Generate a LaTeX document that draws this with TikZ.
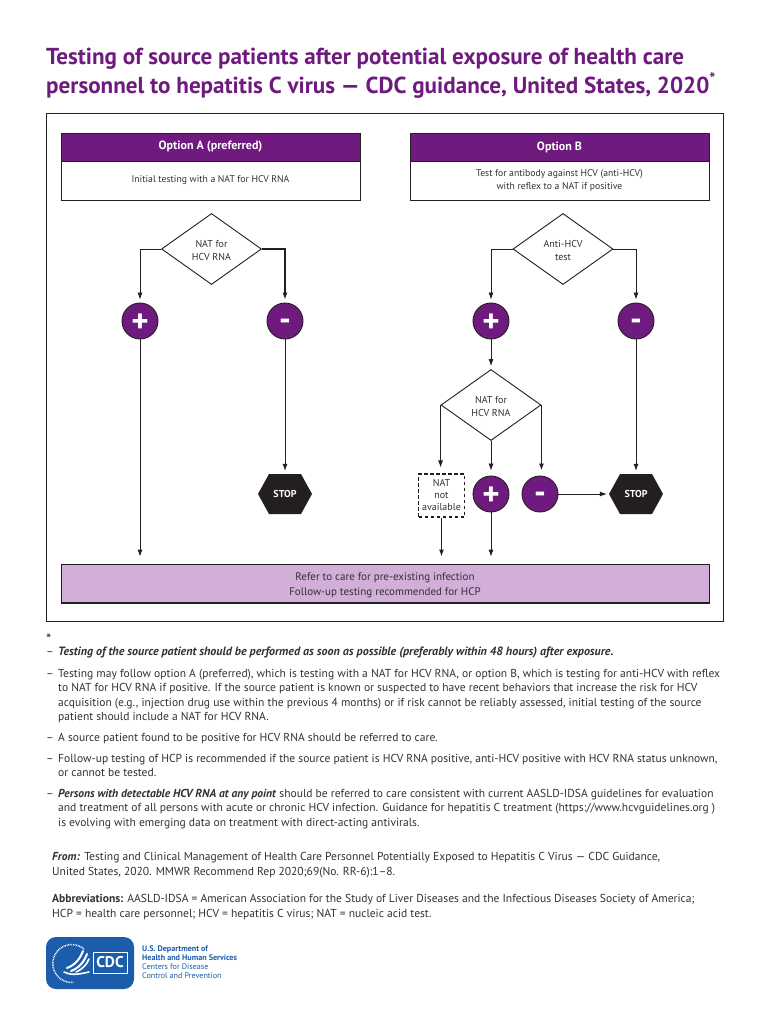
\documentclass[tikz,border=0pt]{standalone}
\usepackage{fontspec}
\setmainfont{PT Sans}
\usetikzlibrary{shapes.geometric,arrows.meta}
\definecolor{cdcpurple}{HTML}{6F1A7E}
\definecolor{lilac}{HTML}{D1AFD9}
\definecolor{inkk}{HTML}{231F20}
\definecolor{txt}{HTML}{333133}
\definecolor{cdcblue}{HTML}{1C5DAB}
\newcommand{\signmark}[2]{\smash{\makebox[0pt]{\raisebox{#1}{#2}}}}
\tikzset{
 arr/.style={draw=inkk,line width=.8pt,-{Latex[length=7pt,width=5pt]}},
 tharr/.style={draw=inkk,line width=1.7pt,-{Latex[length=7pt,width=5pt]}},
 header/.style={draw=inkk,fill=cdcpurple,text=white,font=\fontsize{12}{13}\selectfont\bfseries,minimum width=299pt,minimum height=28pt,inner sep=0pt},
 bodybox/.style={draw=inkk,line width=.7pt,text=txt,font=\fontsize{9.7}{13.5}\selectfont,minimum width=299pt,minimum height=39pt,inner sep=0pt,align=center},
 dec/.style={diamond,draw=inkk,line width=.9pt,text=txt,aspect=1.4,minimum width=100pt,minimum height=71pt,inner sep=0pt,align=center,font=\fontsize{10}{13}\selectfont},
 res/.style={circle,draw=inkk,line width=.9pt,fill=cdcpurple,text=white,minimum size=36pt,inner sep=0pt,font=\fontsize{33}{33}\selectfont\bfseries},
 stopnode/.style={rectangle,minimum width=54pt,minimum height=40pt,inner sep=0pt,text=white,font=\fontsize{10}{11}\selectfont\bfseries,
  path picture={\fill[inkk] (path picture bounding box.west) -- ([xshift=11pt]path picture bounding box.north west) -- ([xshift=-11pt]path picture bounding box.north east) -- (path picture bounding box.east) -- ([xshift=-11pt]path picture bounding box.south east) -- ([xshift=11pt]path picture bounding box.south west) -- cycle;}},
 ttl/.style={anchor=base west,inner sep=0pt,text=cdcpurple,font=\fontsize{23.1}{26}\selectfont\bfseries},
 bt/.style={anchor=base west,inner sep=0pt,text=txt,font=\fontsize{11.55}{14}\selectfont},
 lg/.style={anchor=base west,inner sep=0pt,text=cdcblue,font=\fontsize{8.1}{9}\selectfont},
 swoosh/.style={draw=white,line width=2pt,line cap=round},
}
\begin{document}
\begin{tikzpicture}[x=1pt,y=-1pt]
\useasboundingbox (0,0) rectangle (768,1024);
\fill[white] (0,0) rectangle (768,1024);
\node[ttl] (t1) at (46,65) {Testing of source patients after potential exposure of health care};
\node[ttl] (t2) at (46,94) {personnel to hepatitis C virus — CDC guidance, United States, 2020\textsuperscript{*}};
\node[draw=inkk,line width=.8pt,minimum width=677pt,minimum height=508pt,inner sep=0pt] (frame) at (384.5,367) {};
% headers
\node[bodybox] (bA) at (210.5,180.5) {Initial testing with a NAT for HCV RNA};
\node[bodybox] (bB) at (559.5,180.5) {Test for antibody against HCV (anti-HCV)\\with reflex to a NAT if positive};
\node[header] (hA) at (210.5,147) {Option A (preferred)};
\node[header] (hB) at (559.5,147) {Option B};
% decisions
\node[dec] (dA) at (211.5,249) {\rule{0pt}{10pt}NAT for\\HCV RNA};
\node[dec] (dB) at (563,249) {\rule{0pt}{10pt}Anti-HCV\\test};
\node[dec] (dC) at (491,405) {\rule{0pt}{10pt}NAT for\\HCV RNA};
% results
\node[res] (pA) at (140,321) {\signmark{-11pt}{+}};
\node[res] (mA) at (285,321) {\signmark{-9pt}{-}};
\node[res] (pB) at (491,321) {\signmark{-11pt}{+}};
\node[res] (mB) at (636,321) {\signmark{-9pt}{-}};
\node[res] (pC) at (491,494) {\signmark{-11pt}{+}};
\node[res] (mC) at (540,494) {\signmark{-9pt}{-}};
\node[stopnode] (sA) at (285,494) {STOP};
\node[stopnode] (sB) at (636,494) {STOP};
\node[draw=inkk,line width=1.1pt,dash pattern=on 3.5pt off 2.5pt,minimum width=46pt,minimum height=43pt,inner sep=0pt,align=center,text=txt,font=\fontsize{10}{12}\selectfont] (na) at (441.5,495.5) {NAT\\not\\available};
\node[draw=inkk,line width=.8pt,fill=lilac,minimum width=648pt,minimum height=39pt,inner sep=0pt,align=center,text=txt,font=\fontsize{11}{14.5}\selectfont] (ref) at (385,583.5) {\rule{0pt}{11.5pt}Refer to care for pre-existing infection\\Follow-up testing recommended for HCP};
\draw[inkk,line width=2pt] (ref.south west) -- (ref.south east);
% connectors
\draw[arr,shorten >=3pt] (dA.west) -| (pA.north);
\draw[tharr,line width=1.2pt,shorten >=3pt] (dA.east) -| (mA.north);
\draw[arr,shorten >=3pt] (dB.west) -| (pB.north);
\draw[arr,shorten >=3pt] (dB.east) -| (mB.north);
\draw[arr,shorten >=3pt] (pB.south) -- (dC.north);
\draw[arr,shorten >=6pt] (dC.west) -- (dC.west |- na.north);
\draw[arr,shorten >=5pt] (dC.south) -- (pC.north);
\draw[tharr,shorten >=5pt] (dC.east) -- (dC.east |- mC.north);
\draw[arr,shorten >=3pt] (mA.south) -- (sA.north);
\draw[arr,shorten >=3pt] (mB.south) -- (sB.north);
\draw[arr,shorten >=2pt] (mC.east) -- (sB.west);
\draw[arr,shorten >=7pt] (pA.south) -- (pA.south |- ref.north);
\draw[tharr,shorten >=7pt] (na.south) -- (na.south |- ref.north);
\draw[arr,shorten >=7pt] (pC.south) -- (pC.south |- ref.north);
% notes
\node[bt,font=\fontsize{15}{15}\selectfont] (n0) at (46,644) {*};
\node[bt] (d1) at (46,655) {–};
\node[bt,font=\fontsize{12}{14}\selectfont\bfseries\itshape] (n1) at (58,655) {Testing of the source patient should be performed as soon as possible (preferably within 48 hours) after exposure.};
\node[bt] (d2) at (46,677) {–};
\node[bt] (n2a) at (58,677) {Testing may follow option A (preferred), which is testing with a NAT for HCV RNA, or option B, which is testing for anti-HCV with reflex};
\node[bt] (n2b) at (58,691) {to NAT for HCV RNA if positive. If the source patient is known or suspected to have recent behaviors that increase the risk for HCV};
\node[bt] (n2c) at (58,706) {acquisition (e.g., injection drug use within the previous 4 months) or if risk cannot be reliably assessed, initial testing of the source};
\node[bt] (n2d) at (58,720) {patient should include a NAT for HCV RNA.};
\node[bt] (d3) at (46,741) {–};
\node[bt] (n3) at (58,741) {A source patient found to be positive for HCV RNA should be referred to care.};
\node[bt] (d4) at (46,762) {–};
\node[bt] (n4a) at (58,762) {Follow-up testing of HCP is recommended if the source patient is HCV RNA positive, anti-HCV positive with HCV RNA status unknown,};
\node[bt] (n4b) at (58,776) {or cannot be tested.};
\node[bt] (d5) at (46,797) {–};
\node[bt] (n5a) at (58,797) {\textbf{\textit{Persons with detectable HCV RNA at any point}} should be referred to care consistent with current AASLD-IDSA guidelines for evaluation};
\node[bt] (n5b) at (58,811) {and treatment of all persons with acute or chronic HCV infection. Guidance for hepatitis C treatment (https://www.hcvguidelines.org )};
\node[bt] (n5c) at (58,826) {is evolving with emerging data on treatment with direct-acting antivirals.};
\node[bt] (f1) at (52,860) {\textbf{\textit{From:}} Testing and Clinical Management of Health Care Personnel Potentially Exposed to Hepatitis C Virus — CDC Guidance,};
\node[bt] (f2) at (52,875) {United States, 2020. MMWR Recommend Rep 2020;69(No. RR-6):1–8.};
\node[bt] (a1) at (52,902) {\textbf{Abbreviations:} AASLD-IDSA = American Association for the Study of Liver Diseases and the Infectious Diseases Society of America;};
\node[bt] (a2) at (52,917) {HCP = health care personnel; HCV = hepatitis C virus; NAT = nucleic acid test.};
% logo
\fill[cdcblue,rounded corners=10pt] (46,937) rectangle (134,989);
\draw[white,line width=1.5pt,dash pattern=on .8pt off .8pt] (84,949) arc[start angle=50,end angle=275,radius=19pt];
\draw[swoosh] (83,951) .. controls (80,959) and (75,965) .. (67,968);
\draw[swoosh] (87,954) .. controls (84,962) and (79,968) .. (71,971);
\draw[swoosh,line width=1.6pt] (89,959) .. controls (87,964) and (83,969) .. (76,972);
\draw[swoosh,line width=1.6pt] (64,972) .. controls (70,975) and (76,975) .. (89,972);
\draw[white,line width=.6pt,fill=cdcblue] (93,952) rectangle (127,973);
\node[inner sep=0pt,text=white,font=\fontsize{15.5}{15}\selectfont\bfseries] (cdc) at (110,962.5) {CDC};
\node[lg,font=\fontsize{8.1}{9}\selectfont\bfseries] (l1) at (142,951) {U.S. Department of};
\node[lg,font=\fontsize{8.1}{9}\selectfont\bfseries] (l2) at (142,960) {Health and Human Services};
\node[lg] (l3) at (142,969) {Centers for Disease};
\node[lg] (l4) at (142,978) {Control and Prevention};
\end{tikzpicture}
\end{document}
